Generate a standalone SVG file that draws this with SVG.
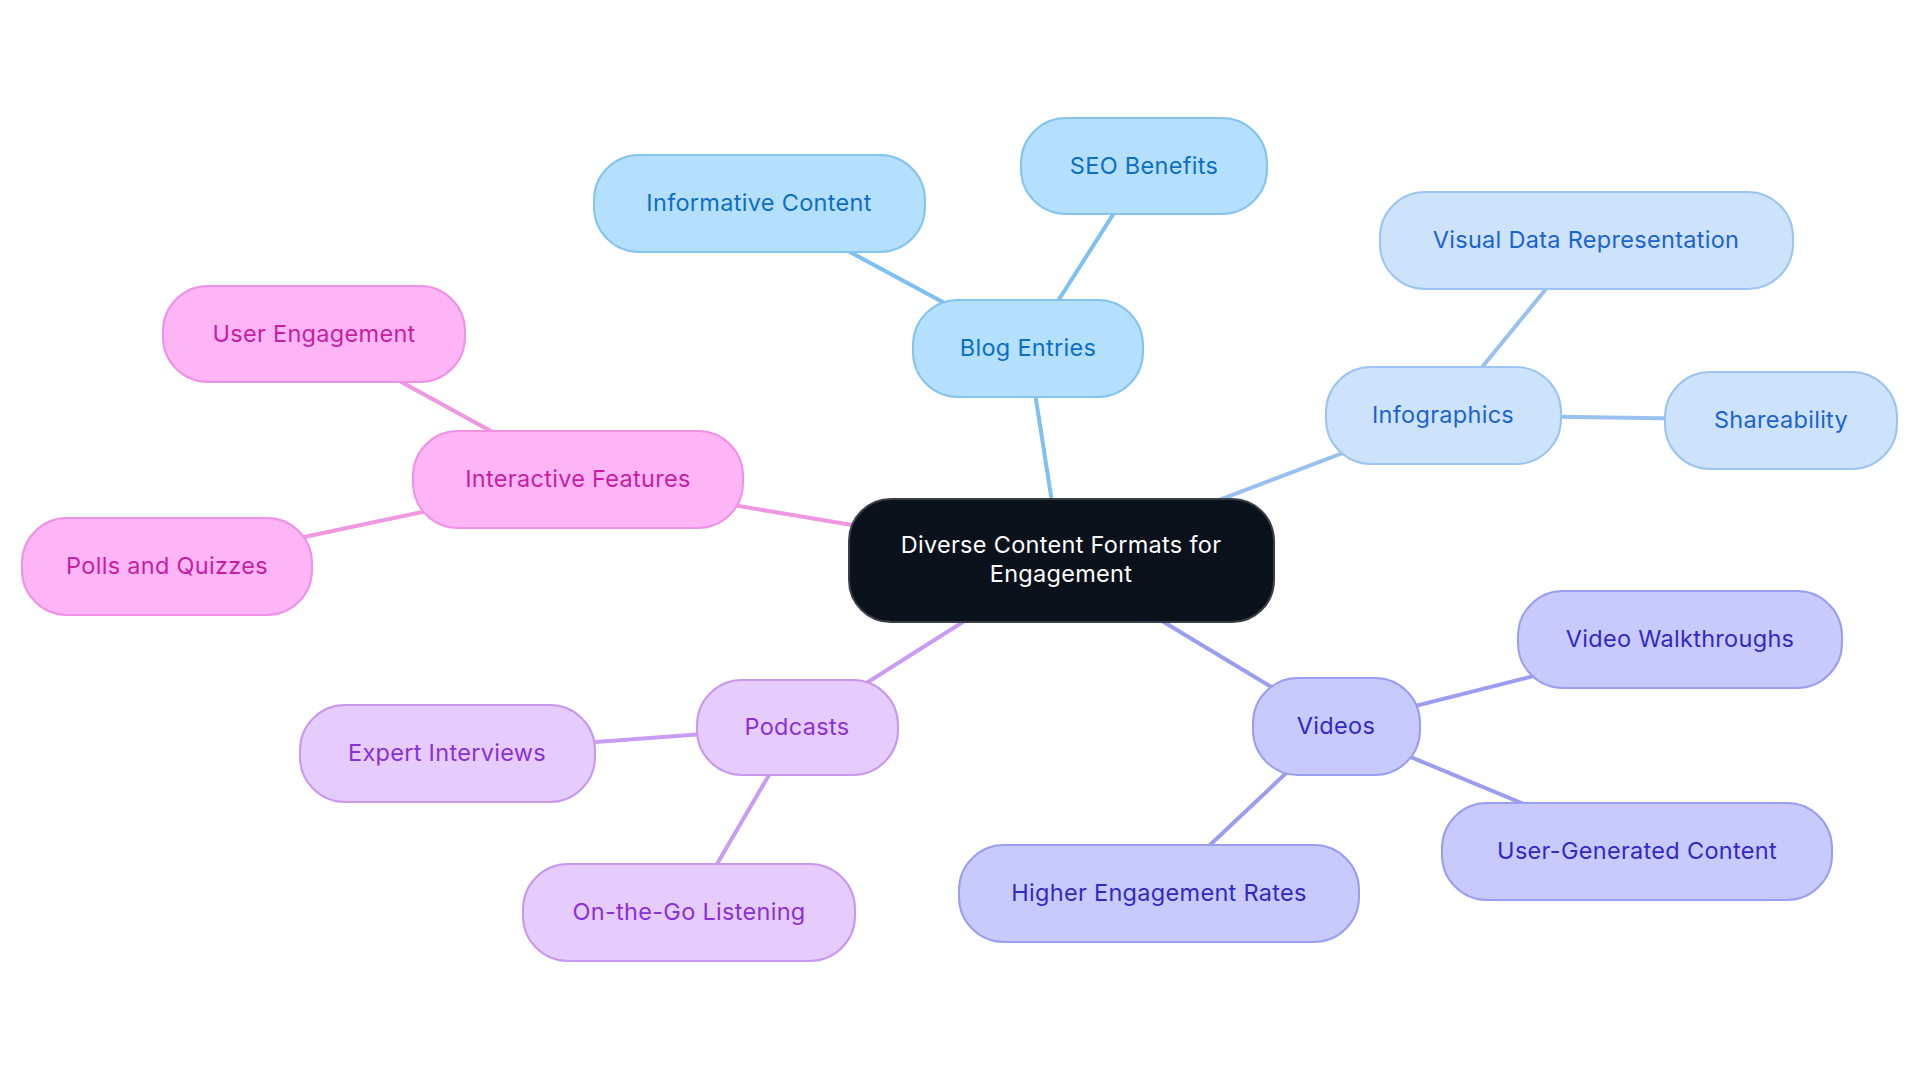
<svg xmlns="http://www.w3.org/2000/svg" width="1920" height="1083" viewBox="0 0 1920 1083">
<style>
text{font-family:Inter,"Noto Sans","Liberation Sans",sans-serif;font-size:23.5px;letter-spacing:0.3px;text-anchor:middle;dominant-baseline:central}
.e{fill:none;stroke-width:4}
.blue rect{fill:#b4e0fd;stroke:#83c4f1;stroke-width:2}
.blue text{fill:#0c6ec4}
.sky rect{fill:#cde3fb;stroke:#9cc4f0;stroke-width:2}
.sky text{fill:#1c62d0}
.pink rect{fill:#fdb5f5;stroke:#ef91e5;stroke-width:2}
.pink text{fill:#c81da2}
.lav rect{fill:#e6cbfd;stroke:#c898ef;stroke-width:2}
.lav text{fill:#8a30d8}
.vio rect{fill:#c8cafd;stroke:#9a9ef1;stroke-width:2}
.vio text{fill:#3129c6}
</style>
<rect width="1920" height="1083" fill="#ffffff"/>
<g id="connectors">
<line class="e" stroke="#7dc0f1" x1="1061" y1="560" x2="1028" y2="348"/>
<line class="e" stroke="#7dc0f1" x1="1028" y1="348" x2="759" y2="203"/>
<line class="e" stroke="#7dc0f1" x1="1028" y1="348" x2="1144" y2="166"/>
<line class="e" stroke="#98c1ef" x1="1061" y1="560" x2="1443" y2="415"/>
<line class="e" stroke="#98c1ef" x1="1443" y1="415" x2="1586" y2="240"/>
<line class="e" stroke="#98c1ef" x1="1443" y1="415" x2="1781" y2="420"/>
<line class="e" stroke="#ef97e1" x1="1061" y1="560" x2="578" y2="479"/>
<line class="e" stroke="#ef97e1" x1="578" y1="479" x2="314" y2="334"/>
<line class="e" stroke="#ef97e1" x1="578" y1="479" x2="167" y2="566"/>
<line class="e" stroke="#c99bf2" x1="1061" y1="560" x2="797" y2="727"/>
<line class="e" stroke="#c99bf2" x1="797" y1="727" x2="447" y2="753"/>
<line class="e" stroke="#c99bf2" x1="797" y1="727" x2="689" y2="912"/>
<line class="e" stroke="#9b9ef0" x1="1061" y1="560" x2="1336" y2="726"/>
<line class="e" stroke="#9b9ef0" x1="1336" y1="726" x2="1680" y2="639"/>
<line class="e" stroke="#9b9ef0" x1="1336" y1="726" x2="1637" y2="851"/>
<line class="e" stroke="#9b9ef0" x1="1336" y1="726" x2="1159" y2="893"/>
</g>
<g id="center">
<rect x="849" y="499" width="425" height="123" rx="42" fill="#0c121c" stroke="#3a3f47" stroke-width="2"/>
<text x="1061" y="544" fill="#ffffff">Diverse Content Formats for</text>
<text x="1061" y="573" fill="#ffffff">Engagement</text>
</g>
<g id="blog" class="blue"><rect x="913" y="300" width="230" height="97" rx="45"/><text x="1028" y="347">Blog Entries</text></g>
<g id="informative" class="blue"><rect x="594" y="155" width="331" height="97" rx="45"/><text x="759" y="202">Informative Content</text></g>
<g id="seo" class="blue"><rect x="1021" y="118" width="246" height="96" rx="45"/><text x="1144" y="165">SEO Benefits</text></g>
<g id="infographics" class="sky"><rect x="1326" y="367" width="235" height="97" rx="45"/><text x="1443" y="414">Infographics</text></g>
<g id="visual" class="sky"><rect x="1380" y="192" width="413" height="97" rx="45"/><text x="1586" y="239">Visual Data Representation</text></g>
<g id="shareability" class="sky"><rect x="1665" y="372" width="232" height="97" rx="45"/><text x="1781" y="419">Shareability</text></g>
<g id="interactive" class="pink"><rect x="413" y="431" width="330" height="97" rx="45"/><text x="578" y="478">Interactive Features</text></g>
<g id="userengagement" class="pink"><rect x="163" y="286" width="302" height="96" rx="45"/><text x="314" y="333">User Engagement</text></g>
<g id="polls" class="pink"><rect x="22" y="518" width="290" height="97" rx="45"/><text x="167" y="565">Polls and Quizzes</text></g>
<g id="podcasts" class="lav"><rect x="697" y="680" width="201" height="95" rx="45"/><text x="797" y="726">Podcasts</text></g>
<g id="expert" class="lav"><rect x="300" y="705" width="295" height="97" rx="45"/><text x="447" y="752">Expert Interviews</text></g>
<g id="onthego" class="lav"><rect x="523" y="864" width="332" height="97" rx="45"/><text x="689" y="911">On-the-Go Listening</text></g>
<g id="videos" class="vio"><rect x="1253" y="678" width="167" height="97" rx="45"/><text x="1336" y="725">Videos</text></g>
<g id="walkthroughs" class="vio"><rect x="1518" y="591" width="324" height="97" rx="45"/><text x="1680" y="638">Video Walkthroughs</text></g>
<g id="ugc" class="vio"><rect x="1442" y="803" width="390" height="97" rx="45"/><text x="1637" y="850">User-Generated Content</text></g>
<g id="higher" class="vio"><rect x="959" y="845" width="400" height="97" rx="45"/><text x="1159" y="892">Higher Engagement Rates</text></g>
</svg>
